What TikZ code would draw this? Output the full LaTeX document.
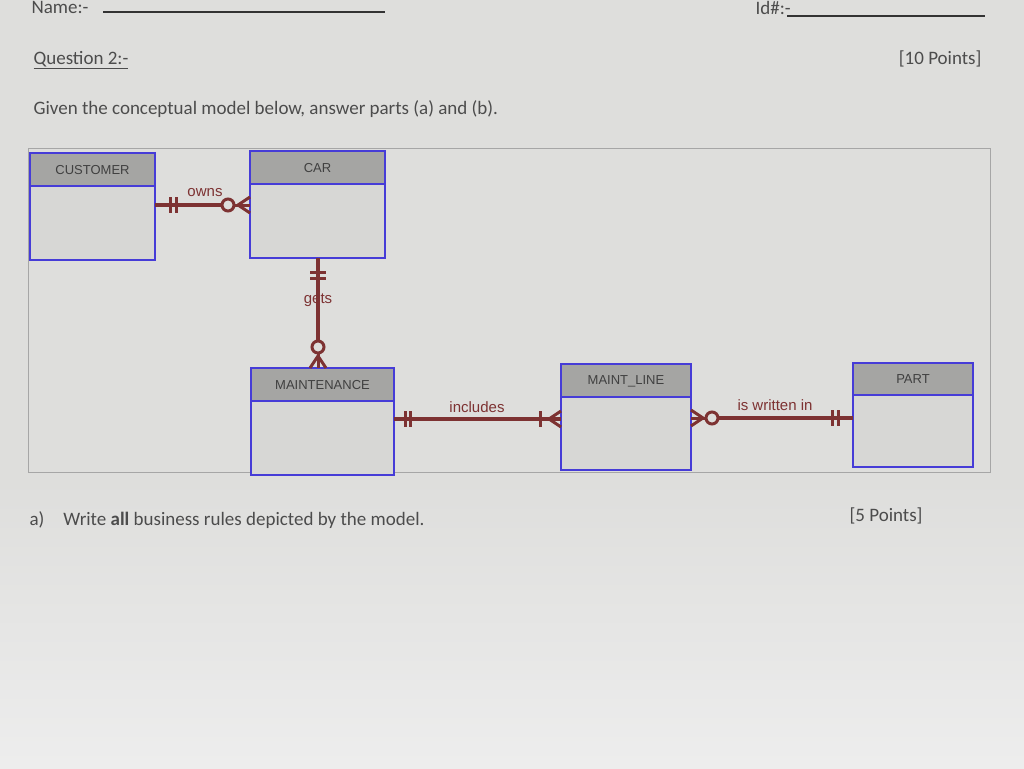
\documentclass[tikz,border=0pt]{standalone}
\usepackage{fontspec}
\setmainfont{Carlito}
\setsansfont{Liberation Sans}
\begin{document}
\begin{tikzpicture}[x=1pt,y=-1pt,
  rel/.style={draw=relc,line width=3.2pt},
  tick/.style={draw=relc,line width=3pt},
  ent/.style={draw=entb,line width=2pt},
  hdr/.style={font=\sffamily\fontsize{13}{14}\selectfont,text=black!75},
  lab/.style={font=\sffamily\fontsize{15}{16}\selectfont,text=relc},
  txt/.style={font=\fontsize{19}{22}\selectfont,text=black!70,anchor=base west}]
\definecolor{relc}{RGB}{125,50,50}
\definecolor{entb}{RGB}{70,60,215}
\definecolor{bg}{RGB}{222,222,220}
\definecolor{hd}{RGB}{165,165,163}
\definecolor{bd}{RGB}{215,215,213}
\useasboundingbox (0,0) rectangle (1024,768);
\shade[top color=bg,bottom color=black!7] (0,480) rectangle (1024,768);
\fill[bg] (0,0) rectangle (1024,481);
% header texts
\node[txt] (name) at (28,14) {Name:-};
\draw[black!80,line width=1.2pt] (103,12) -- (385,12);
\node[txt] (id) at (752,15) {Id\#:-};
\draw[black!80,line width=1.2pt] (787,16) -- (985,16);
\node[txt] (q) at (30,64) {\underline{Question 2:-}};
\node[txt,anchor=base east] (pts) at (985,64) {[10 Points]};
\node[txt] (given) at (30,114) {Given the conceptual model below, answer parts (a) and (b).};
\node[txt] (a) at (26,525) {a)\quad Write \textbf{all} business rules depicted by the model.};
\node[txt] (pts5) at (846,521) {[5 Points]};
% frame
\draw[black!35,line width=1pt] (28,148) rectangle (990,472);
% entities
\newcommand{\entity}[6]{% name, x1,y1,x2,y2,hy
  \fill[bd] (#2,#3) rectangle (#4,#5);
  \fill[hd] (#2,#3) rectangle (#4,#6);
  \draw[ent] (#2,#3) rectangle (#4,#5);
  \draw[ent] (#2,#6) -- (#4,#6);}
\entity{c}{30}{153}{155}{260}{186}
\node[hdr] (cust) at (92.5,170) {CUSTOMER};
\entity{car}{250}{151}{385}{258}{184}
\node[hdr] (carl) at (317.5,168) {CAR};
\entity{m}{251}{368}{394}{475}{401}
\node[hdr] (mt) at (322.5,385) {MAINTENANCE};
\entity{ml}{561}{364}{691}{470}{397}
\node[hdr] (mll) at (626,381) {MAINT\_LINE};
\entity{p}{853}{363}{973}{467}{395}
\node[hdr] (pl) at (913,379) {PART};
% owns
\coordinate (o1) at (155,205); \coordinate (o2) at (250,205);
\draw[rel] (o1) -- (222,205);
\draw[tick] (170,197) -- (170,213); \draw[tick] (176,197) -- (176,213);
\draw[tick] (228,205) circle (6);
\draw[tick] (234,205) -- (o2); \draw[tick] (238,205) -- (250,197); \draw[tick] (238,205) -- (250,213);
\node[lab] (owns) at (205,193) {owns};
% gets
\coordinate (g1) at (318,258); \coordinate (g2) at (318,368);
\draw[rel] (g1) -- (318,341);
\draw[tick] (310,272) -- (326,272); \draw[tick] (310,278) -- (326,278);
\draw[tick] (318,347) circle (6);
\draw[tick] (318,353) -- (g2); \draw[tick] (318,356) -- (310,368); \draw[tick] (318,356) -- (326,368);
\node[lab] (gets) at (318,300) {gets};
% includes
\coordinate (i1) at (394,419); \coordinate (i2) at (561,419);
\draw[rel] (i1) -- (i2);
\draw[tick] (405,411) -- (405,427); \draw[tick] (410,411) -- (410,427);
\draw[tick] (540,411) -- (540,427);
\draw[tick] (549,419) -- (561,411); \draw[tick] (549,419) -- (561,427);
\node[lab] (inc) at (477,407) {includes};
% is written in
\coordinate (w1) at (691,418); \coordinate (w2) at (853,418);
\draw[rel] (718,418) -- (w2);
\draw[tick] (712,418) circle (6);
\draw[tick] (w1) -- (706,418); \draw[tick] (703,418) -- (691,410); \draw[tick] (703,418) -- (691,426);
\draw[tick] (832,410) -- (832,426); \draw[tick] (838,410) -- (838,426);
\node[lab] (wr) at (775,405) {is written in};
\end{tikzpicture}
\end{document}
